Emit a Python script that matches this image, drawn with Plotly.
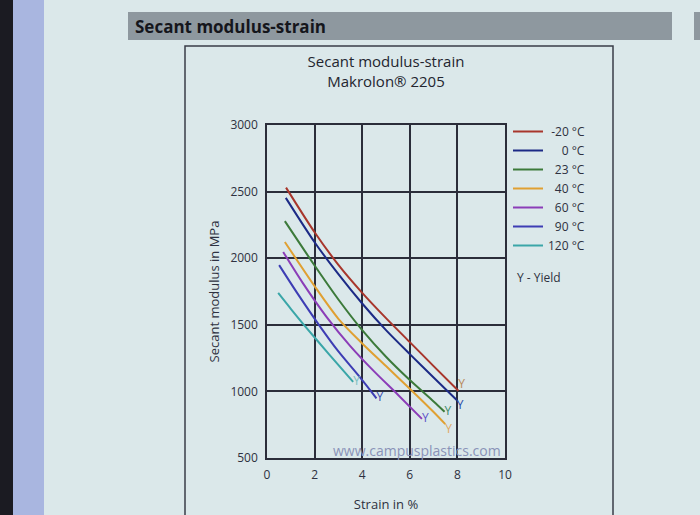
import plotly.graph_objects as go

# ---- data ----
series_names = ["-20 °C", "0 °C", "23 °C", "40 °C", "60 °C", "90 °C", "120 °C"]
legend_labels = ["\u2008-20 °C", "\u2007\u20070 °C", "\u200723 °C", "\u200740 °C",
                 "\u200760 °C", "\u200790 °C", "120 °C"]

strain_m20 = [0.80, 2.0, 3.0, 4.0, 5.0, 6.0, 7.0, 8.04]
mod_m20    = [2530, 2195, 1950, 1740, 1550, 1370, 1190, 1005]

strain_0 = [0.79, 2.0, 3.0, 4.0, 5.0, 6.0, 7.0, 7.97]
mod_0    = [2453, 2120, 1880, 1660, 1460, 1280, 1105, 936]

strain_23 = [0.75, 2.0, 3.0, 4.0, 5.0, 6.0, 7.0, 7.46]
mod_23    = [2278, 1945, 1690, 1460, 1260, 1085, 925, 848]

strain_40 = [0.75, 2.0, 3.0, 4.0, 5.0, 6.0, 7.0, 7.49]
mod_40    = [2122, 1790, 1545, 1360, 1190, 1020, 845, 754]

strain_60 = [0.68, 1.5, 2.5, 3.5, 4.5, 5.5, 6.51]
mod_60    = [2047, 1815, 1560, 1340, 1150, 975, 794]

strain_90 = [0.51, 1.3, 2.18, 3.0, 3.85, 4.6]
mod_90    = [1948, 1730, 1500, 1300, 1118, 948]

strain_120 = [0.47, 1.0, 1.55, 2.6, 3.62]
mod_120    = [1739, 1620, 1500, 1280, 1072]

x_ticks = [0, 2, 4, 6, 8, 10]
y_ticks = [500, 1000, 1500, 2000, 2500, 3000]

all_strain = [strain_m20, strain_0, strain_23, strain_40, strain_60, strain_90, strain_120]
all_mod = [mod_m20, mod_0, mod_23, mod_40, mod_60, mod_90, mod_120]

# ---- styles ----
line_colors = ["#a8362c", "#1c2a86", "#3c7a3a", "#e0a032", "#8b3db8", "#3d3db4", "#3aa6a8"]
y_colors = ["#b88a5a", "#2848a8", "#3c8a6a", "#e0a862", "#5a50c8", "#3848b0", "#7cc0c0"]
y_pos = ["top right", "bottom right", "middle right", "bottom right",
         "middle right", "middle right", "middle right"]

W, H = 700, 515
L, R, T, B = 267, 505, 125, 458


def px(xp):
    return (xp - L) / (R - L)


def py(yp):
    return (B - yp) / (B - T)


BG = "#dbe8ea"
DARK = "#2b2d3a"
TXT = "#2e3140"
FONT = "Open Sans"

fig = go.Figure()
for name, lab, xs, ys, c, yc, tp in zip(series_names, legend_labels, all_strain, all_mod,
                                        line_colors, y_colors, y_pos):
    fig.add_trace(go.Scatter(
        x=xs, y=ys, name=lab, mode="lines+text",
        line=dict(color=c, width=2, shape="spline", smoothing=0.8),
        text=[""] * (len(xs) - 1) + ["Y"],
        textposition=tp,
        textfont=dict(color=yc, size=12, family=FONT),
        hoverinfo="skip",
    ))

axis_common = dict(
    showgrid=True, gridcolor=DARK, gridwidth=1.5,
    showline=True, linecolor=DARK, linewidth=1.5, mirror=True,
    zeroline=False, ticks="outside", tickcolor="rgba(0,0,0,0)",
    tickfont=dict(size=12, color=TXT, family=FONT), automargin=False,
)

fig.update_layout(
    width=W, height=H,
    margin=dict(l=L, r=W - R, t=T, b=H - B, pad=0, autoexpand=False),
    paper_bgcolor=BG, plot_bgcolor=BG,
    font=dict(family=FONT, color=TXT),
    title=dict(text="Secant modulus-strain<br>Makrolon® 2205",
               x=px(386), xref="paper", xanchor="center",
               y=1 - 67 / H, yref="container", yanchor="middle",
               font=dict(size=15, color="#23252f", family=FONT)),
    xaxis=dict(range=[0, 10], tickvals=x_ticks, ticklen=5,
               title=dict(text="Strain in %", standoff=18,
                          font=dict(size=13, color=TXT, family=FONT)),
               **axis_common),
    yaxis=dict(range=[500, 3000], tickvals=y_ticks, ticklen=5,
               title=dict(text="Secant modulus in MPa", standoff=8,
                          font=dict(size=13, color=TXT, family=FONT)),
               **axis_common),
    showlegend=True,
    legend=dict(x=px(508), y=py(117), xanchor="left", yanchor="top",
                bgcolor="rgba(0,0,0,0)", borderwidth=0,
                font=dict(size=12, color=TXT, family=FONT),
                itemwidth=30, tracegroupgap=0),
)

# decorative page elements (photo of a web page)
shapes = [
    dict(type="rect", xref="paper", yref="paper", x0=px(0), x1=px(13), y0=py(H), y1=py(0),
         fillcolor="#1b1b22", line_width=0, layer="below"),
    dict(type="rect", xref="paper", yref="paper", x0=px(13), x1=px(44), y0=py(H), y1=py(0),
         fillcolor="#a9b6e0", line_width=0, layer="below"),
    dict(type="rect", xref="paper", yref="paper", x0=px(128), x1=px(672), y0=py(40), y1=py(12),
         fillcolor="#8e989f", line_width=0, layer="below"),
    dict(type="rect", xref="paper", yref="paper", x0=px(694), x1=px(700), y0=py(40), y1=py(12),
         fillcolor="#8e989f", line_width=0, layer="below"),
    dict(type="rect", xref="paper", yref="paper", x0=px(185), x1=px(613), y0=py(H + 10), y1=py(46),
         fillcolor="rgba(0,0,0,0)", line=dict(color="#3a3c48", width=1.5), layer="below"),
]
fig.update_layout(shapes=shapes)

fig.add_annotation(text="<b>Secant modulus-strain</b>", xref="paper", yref="paper",
                   x=px(133), y=py(27), xanchor="left", yanchor="middle", showarrow=False,
                   font=dict(size=17, color="#15161c", family=FONT))
fig.add_annotation(text="Y - Yield", xref="paper", yref="paper",
                   x=px(515), y=py(277), xanchor="left", yanchor="middle", showarrow=False,
                   font=dict(size=12, color=TXT, family=FONT))
fig.add_annotation(text="www.campusplastics.com", xref="paper", yref="paper",
                   x=px(503), y=py(450), xanchor="right", yanchor="middle", showarrow=False,
                   font=dict(size=14, color="#8a93b8", family=FONT))

fig.write_html("out.html",
               config={"displayModeBar": False},
               post_script="document.body.style.margin='0';"
                           "document.body.style.background='#dbe8ea';")
